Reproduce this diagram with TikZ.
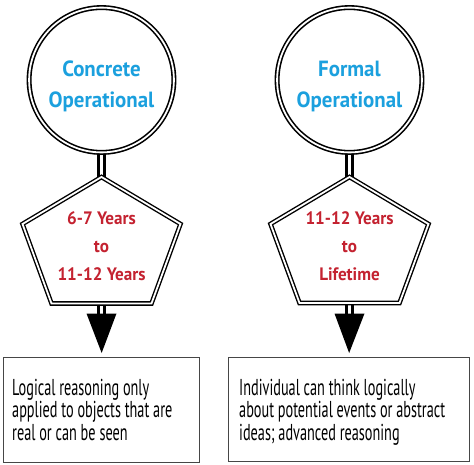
\documentclass[tikz,border=0pt]{standalone}
\usepackage{fontspec}
\setmainfont{PT Sans}[FakeStretch=0.62]
\newfontfamily\headfont{PT Sans}[FakeStretch=0.95]
\usetikzlibrary{backgrounds}
\definecolor{stageblue}{RGB}{27,160,222}
\definecolor{agered}{RGB}{196,34,48}
\definecolor{boxgray}{RGB}{70,70,70}
\tikzset{
  stage/.style={circle, draw, double, line width=1.6pt, double distance=1.8pt,
    fill=white, minimum size=144.8pt, inner sep=0pt},
  stagetext/.style={anchor=north, inner sep=0pt, align=center,
    text=stageblue, font=\headfont\bfseries\fontsize{22}{31}\selectfont},
  agetext/.style={anchor=north, inner sep=0pt, align=center,
    text=agered, font=\headfont\bfseries\fontsize{18}{28}\selectfont},
  frame/.style={draw, double, line width=1.4pt, double distance=1.8pt, fill=white, line join=miter},
  stem/.style={draw, double, line width=2.8pt, double distance=3pt},
  descbox/.style={draw=boxgray, line width=1.3pt, anchor=north west, inner sep=0pt},
  desctext/.style={anchor=north west, inner sep=0pt, align=left,
    font=\fontsize{23}{22.5}\selectfont},
}
\begin{document}
\begin{tikzpicture}[x=1pt, y=-1pt]
\useasboundingbox (0,0) rectangle (474,465);

% left column
\node[stage] (c1) at (101.5,80) {};
\node[stagetext] (t1) at (101.5,61) {Concrete\\Operational};
\draw[frame] (101.5,177) -- (180.5,224) -- (151.5,303.5) -- (51.5,303.5) -- (22.5,224) -- cycle;
\coordinate (p1t) at (101.5,177);
\coordinate (p1b) at (101.5,303.5);
\node[agetext] (p1) at (101.5,211.5) {6-7 Years\\to\\11-12 Years};
\coordinate (a1) at (101.5,313.5);
\node[descbox, minimum width=196pt, minimum height=105pt] (d1) at (3,357) {};
\node[desctext] (d1t) at (12,379) {Logical reasoning only\\applied to objects that are\\real or can be seen};

% right column
\node[stage] (c2) at (349.5,80) {};
\node[stagetext] (t2) at (349.5,61) {Formal\\Operational};
\draw[frame] (349.5,177) -- (428.5,224) -- (399.5,303) -- (299.5,303) -- (270.5,224) -- cycle;
\coordinate (p2t) at (349.5,177);
\coordinate (p2b) at (349.5,303);
\node[agetext] (p2) at (349.5,211.5) {11-12 Years\\to\\Lifetime};
\coordinate (a2) at (349.5,313.5);
\node[descbox, minimum width=241pt, minimum height=104pt] (d2) at (228,357) {};
\node[desctext] (d2t) at (239,379) {Individual can think logically\\about potential events or abstract\\ideas; advanced reasoning};

% connectors
\begin{scope}[on background layer]
\draw[stem] (c1.south) -- (p1t);
\draw[stem] (p1b) -- (a1);
\draw[stem] (c2.south) -- (p2t);
\draw[stem] (p2b) -- (a2);
\end{scope}
\fill ([xshift=-15pt]a1) -- ([xshift=15pt]a1) -- ([yshift=4pt]d1.north) -- cycle;
\fill ([xshift=-15pt]a2) -- ([xshift=15pt]a2) -- ([yshift=4pt]d2.north) -- cycle;
\end{tikzpicture}
\end{document}
